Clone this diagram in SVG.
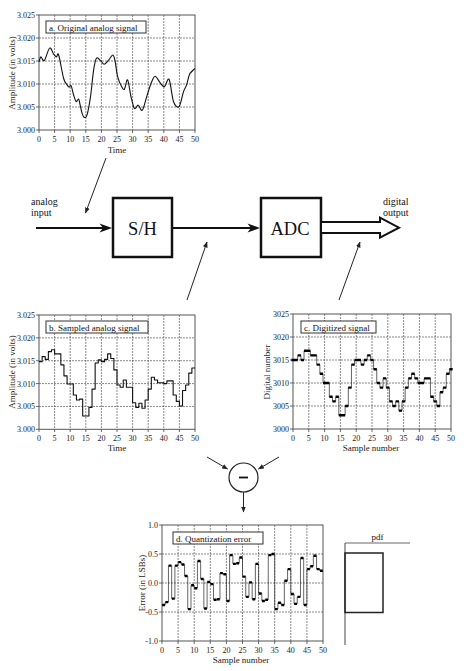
<svg xmlns="http://www.w3.org/2000/svg" width="474" height="671" viewBox="0 0 474 671">
<defs>
<style>
.grid{fill:none;stroke:#555;stroke-width:0.7;stroke-dasharray:2 1}
.frame{fill:none;stroke:#555;stroke-width:1}
.tk{fill:none;stroke:#444;stroke-width:0.8}
.num{font-family:"Liberation Serif",serif;font-size:8px;fill:#222}
.ax{font-family:"Liberation Serif",serif;font-size:9px;fill:#222}
.leg{fill:#fff;stroke:#333;stroke-width:1}
.legt{font-family:"Liberation Serif",serif;font-size:9px;fill:#111}
.sig{fill:none;stroke:#111;stroke-width:1.1;stroke-linejoin:round}
.stem{fill:none;stroke:#222;stroke-width:0.7}
.mk{fill:none;stroke:#000;stroke-width:2.4}
.lbl{font-family:"Liberation Serif",serif;font-size:10px;fill:#111}
.box{fill:#fff;stroke:#111;stroke-width:2.5}
.boxt{font-family:"Liberation Serif",serif;font-size:18.5px;fill:#111;text-anchor:middle}
.thin{fill:none;stroke:#222;stroke-width:1}
.main{fill:none;stroke:#111;stroke-width:2}
</style>
<marker id="ah" viewBox="0 0 10 10" refX="9" refY="5" markerWidth="6" markerHeight="6" markerUnits="userSpaceOnUse" orient="auto"><path d="M0,1 L10,5 L0,9 Z" fill="#222"/></marker>
</defs>
<rect width="474" height="671" fill="#fff"/>

<!-- Plot a -->
<g id="plot-a">
<path class="grid" d="M54.6,15V130M70.2,15V130M85.8,15V130M101.4,15V130M117,15V130M132.6,15V130M148.2,15V130M163.8,15V130M179.4,15V130M39,38H195M39,61H195M39,84H195M39,107H195"/>
<rect class="frame" x="39" y="15" width="156" height="115"/>
<path class="tk" d="M36,15H39M36,38H39M36,61H39M36,84H39M36,107H39M36,130H39M39,130V133M54.6,130V133M70.2,130V133M85.8,130V133M101.4,130V133M117,130V133M132.6,130V133M148.2,130V133M163.8,130V133M179.4,130V133M195,130V133"/>
<g class="num" text-anchor="end"><text x="35" y="18">3.025</text><text x="35" y="41">3.020</text><text x="35" y="64">3.015</text><text x="35" y="87">3.010</text><text x="35" y="110">3.005</text><text x="35" y="133">3.000</text></g>
<g class="num" text-anchor="middle"><text x="39" y="142">0</text><text x="54.6" y="142">5</text><text x="70.2" y="142">10</text><text x="85.8" y="142">15</text><text x="101.4" y="142">20</text><text x="117" y="142">25</text><text x="132.6" y="142">30</text><text x="148.2" y="142">35</text><text x="163.8" y="142">40</text><text x="179.4" y="142">45</text><text x="195" y="142">50</text></g>
<text class="ax" x="117" y="152.5" text-anchor="middle">Time</text>
<text class="ax" transform="translate(15,73) rotate(-90)" text-anchor="middle">Amplitude (in volts)</text>
<path class="sig" stroke-width="1.4" d="M39,61.92 C39.62,60.23 39.99,57.09 40.87,56.86 S42.84,62.00 44.30,60.54 S48.05,49.19 49.61,48.12 S52.52,52.64 53.66,54.10 S55.64,56.71 56.47,56.86 S57.46,51.42 58.66,55.02 S62.25,73.50 63.65,78.48 S66.15,83.46 67.08,84.92 S68.58,87.07 69.26,87.22 S70.41,84.54 71.14,85.84 S72.80,92.43 73.63,95.04 S75.30,100.79 76.13,101.48 S77.95,98.57 78.62,99.18 S79.61,102.78 80.18,105.16 S81.38,111.41 82.06,113.44 S83.41,117.12 84.24,117.35 S86.01,118.23 87.05,114.82 S89.39,104.32 90.48,96.88 S92.61,76.64 93.60,70.20 S95.27,59.85 96.41,58.24 S99.16,59.54 100.46,60.54 S102.86,64.30 104.21,64.22 S107.13,61.61 108.58,60.08 S111.85,54.79 112.94,55.02 S114.35,57.86 115.13,61.46 S116.53,72.42 117.62,76.64 S120.54,84.69 121.68,86.76 S123.50,90.21 124.49,89.06 S126.52,78.56 127.61,79.86 S129.90,92.13 131.04,96.88 S133.27,107.00 134.47,108.38 S136.92,104.85 138.22,105.16 S140.87,111.60 142.27,110.22 S145.18,101.33 146.64,96.88 S149.61,86.99 151.01,83.54 S153.55,76.33 155.06,76.18 S158.50,80.86 160.06,82.62 S162.91,87.30 164.42,86.76 S167.59,76.95 169.10,79.40 S171.81,96.96 173.47,101.48 S177.43,108.15 179.09,106.54 S182.21,95.42 183.46,91.82 S185.49,87.99 186.58,84.92 S188.61,75.34 190.01,73.42 S193.34,70.05 195,68.36"/>
<rect class="leg" x="46" y="21" width="100" height="12"/>
<text class="legt" x="49" y="30.5">a. Original analog signal</text>
</g>

<!-- Plot b -->
<g id="plot-b">
<path class="grid" d="M54.6,315V429.3M70.2,315V429.3M85.8,315V429.3M101.4,315V429.3M117,315V429.3M132.6,315V429.3M148.2,315V429.3M163.8,315V429.3M179.4,315V429.3M39,337.86H195M39,360.72H195M39,383.58H195M39,406.44H195"/>
<rect class="frame" x="39" y="315" width="156" height="114.3"/>
<path class="tk" d="M36,315H39M36,337.86H39M36,360.72H39M36,383.58H39M36,406.44H39M36,429.3H39M39,429.3V432M54.6,429.3V432M70.2,429.3V432M85.8,429.3V432M101.4,429.3V432M117,429.3V432M132.6,429.3V432M148.2,429.3V432M163.8,429.3V432M179.4,429.3V432M195,429.3V432"/>
<g class="num" text-anchor="end"><text x="35" y="318">3.025</text><text x="35" y="340.9">3.020</text><text x="35" y="363.7">3.015</text><text x="35" y="386.6">3.010</text><text x="35" y="409.4">3.005</text><text x="35" y="432.3">3.000</text></g>
<g class="num" text-anchor="middle"><text x="39" y="440.5">0</text><text x="54.6" y="440.5">5</text><text x="70.2" y="440.5">10</text><text x="85.8" y="440.5">15</text><text x="101.4" y="440.5">20</text><text x="117" y="440.5">25</text><text x="132.6" y="440.5">30</text><text x="148.2" y="440.5">35</text><text x="163.8" y="440.5">40</text><text x="179.4" y="440.5">45</text><text x="195" y="440.5">50</text></g>
<text class="ax" x="117" y="451" text-anchor="middle">Time</text>
<text class="ax" transform="translate(15,372) rotate(-90)" text-anchor="middle">Amplitude (in volts)</text>
<path class="sig" d="M39,361.66 H42.12 V356.64 H45.24 V359.38 H48.36 V351.61 H51.48 V349.78 H54.6 V353.90 H60.84 V364.86 H63.96 V375.83 H67.08 V384.06 H73.32 V395.03 H76.44 V400.05 H79.56 V399.14 H82.68 V416.05 H88.92 V407.36 H92.04 V389.08 H95.16 V363.03 H98.28 V359.84 H101.4 V361.66 H104.52 V359.38 H107.64 V353.90 H110.76 V358.47 H113.88 V369.89 H117 V384.97 H120.12 V387.26 H123.24 V379.94 H126.36 V387.26 H132.6 V402.79 H135.72 V407.36 H138.84 V403.25 H141.96 V408.28 H145.08 V400.05 H148.2 V389.08 H151.32 V377.20 H154.44 V379.94 H157.56 V382.69 H163.8 V383.60 H166.92 V380.86 H173.16 V395.03 H176.28 V401.42 H179.4 V405.99 H182.52 V390.46 H185.64 V384.97 H188.76 V373.09 H191.88 V368.06 H195"/>
<rect class="leg" x="46" y="321" width="102" height="12"/>
<text class="legt" x="49" y="330.5">b. Sampled analog signal</text>
</g>

<!-- Plot c -->
<g id="plot-c">
<path class="grid" d="M308.8,314V429M324.6,314V429M340.4,314V429M356.2,314V429M372,314V429M387.8,314V429M403.6,314V429M419.4,314V429M435.2,314V429M293,337H451M293,360H451M293,383H451M293,406H451"/>
<rect class="frame" x="293" y="314" width="158" height="115"/>
<path class="tk" d="M290,314H293M290,337H293M290,360H293M290,383H293M290,406H293M290,429H293M293,429V432M308.8,429V432M324.6,429V432M340.4,429V432M356.2,429V432M372,429V432M387.8,429V432M403.6,429V432M419.4,429V432M435.2,429V432M451,429V432"/>
<g class="num" text-anchor="end"><text x="289" y="317">3025</text><text x="289" y="340">3020</text><text x="289" y="363">3015</text><text x="289" y="386">3010</text><text x="289" y="409">3005</text><text x="289" y="432">3000</text></g>
<g class="num" text-anchor="middle"><text x="293" y="440.5">0</text><text x="308.8" y="440.5">5</text><text x="324.6" y="440.5">10</text><text x="340.4" y="440.5">15</text><text x="356.2" y="440.5">20</text><text x="372" y="440.5">25</text><text x="387.8" y="440.5">30</text><text x="403.6" y="440.5">35</text><text x="419.4" y="440.5">40</text><text x="435.2" y="440.5">45</text><text x="451" y="440.5">50</text></g>
<text class="ax" x="371" y="451" text-anchor="middle">Sample number</text>
<text class="ax" transform="translate(270,372) rotate(-90)" text-anchor="middle">Digital number</text>
<path class="stem" d="M291.4,360 H297.74 V355.4 H300.9 V360 H304.06 V350.8 H310.38 V355.4 H316.7 V364.6 H319.86 V373.8 H323.02 V383 H329.34 V396.8 H332.5 V401.4 H335.66 V396.8 H338.82 V415.2 H345.14 V406 H348.3 V387.6 H351.46 V364.6 H354.62 V360 H360.94 V364.6 H364.1 V360 H367.26 V355.4 H370.42 V360 H373.58 V369.2 H376.74 V383 H379.9 V387.6 H383.06 V378.4 H386.22 V387.6 H389.38 V401.4 H392.54 V406 H395.7 V401.4 H398.86 V410.6 H402.02 V401.4 H405.18 V387.6 H408.34 V378.4 H411.5 V373.8 H414.66 V378.4 H417.82 V383 H424.14 V378.4 H430.46 V396.8 H433.62 V401.4 H436.78 V406 H439.94 V392.2 H443.1 V387.6 H446.26 V373.8 H449.42 V369.2 H452.6"/>
<path class="mk" stroke-width="2.7" d="M291.4,360h3.2M294.56,360h3.2M297.72,355.4h3.2M300.88,360h3.2M304.04,350.8h3.2M307.2,350.8h3.2M310.36,355.4h3.2M313.52,355.4h3.2M316.68,364.6h3.2M319.84,373.8h3.2M323,383h3.2M326.16,383h3.2M329.32,396.8h3.2M332.48,401.4h3.2M335.64,396.8h3.2M338.8,415.2h3.2M341.96,415.2h3.2M345.12,406h3.2M348.28,387.6h3.2M351.44,364.6h3.2M354.6,360h3.2M357.76,360h3.2M360.92,364.6h3.2M364.08,360h3.2M367.24,355.4h3.2M370.4,360h3.2M373.56,369.2h3.2M376.72,383h3.2M379.88,387.6h3.2M383.04,378.4h3.2M386.2,387.6h3.2M389.36,401.4h3.2M392.52,406h3.2M395.68,401.4h3.2M398.84,410.6h3.2M402,401.4h3.2M405.16,387.6h3.2M408.32,378.4h3.2M411.48,373.8h3.2M414.64,378.4h3.2M417.8,383h3.2M420.96,383h3.2M424.12,378.4h3.2M427.28,378.4h3.2M430.44,396.8h3.2M433.6,401.4h3.2M436.76,406h3.2M439.92,392.2h3.2M443.08,387.6h3.2M446.24,373.8h3.2M449.4,369.2h3.2"/>
<rect class="leg" x="301" y="321" width="75" height="12"/>
<text class="legt" x="304" y="330.5">c. Digitized signal</text>
</g>

<!-- Subtraction node -->
<g id="node-subtract">
<circle cx="243.5" cy="477.5" r="14.5" fill="#fff" stroke="#222" stroke-width="1.2"/>
<line x1="239" y1="477.5" x2="248" y2="477.5" stroke="#111" stroke-width="1.8"/>
</g>

<!-- Plot d -->
<g id="plot-d">
<path class="grid" d="M178.1,525V641M194.2,525V641M210.3,525V641M226.4,525V641M242.5,525V641M258.6,525V641M274.7,525V641M290.8,525V641M306.9,525V641M162,554H323M162,583H323M162,612H323"/>
<rect class="frame" x="162" y="525" width="161" height="116"/>
<path class="tk" d="M159,525H162M159,554H162M159,583H162M159,612H162M159,641H162M162,641V644M178.1,641V644M194.2,641V644M210.3,641V644M226.4,641V644M242.5,641V644M258.6,641V644M274.7,641V644M290.8,641V644M306.9,641V644M323,641V644"/>
<g class="num" text-anchor="end"><text x="158" y="528">1.0</text><text x="158" y="557">0.5</text><text x="158" y="586">0.0</text><text x="158" y="615">-0.5</text><text x="158" y="644">-1.0</text></g>
<g class="num" text-anchor="middle"><text x="162" y="652.5">0</text><text x="178.1" y="652.5">5</text><text x="194.2" y="652.5">10</text><text x="210.3" y="652.5">15</text><text x="226.4" y="652.5">20</text><text x="242.5" y="652.5">25</text><text x="258.6" y="652.5">30</text><text x="274.7" y="652.5">35</text><text x="290.8" y="652.5">40</text><text x="306.9" y="652.5">45</text><text x="323" y="652.5">50</text></g>
<text class="ax" x="241" y="662.5" text-anchor="middle">Sample number</text>
<text class="ax" transform="translate(144.5,583) rotate(-90)" text-anchor="middle">Error (in LSBs)</text>
<path class="stem" d="M162,605.04 H165.22 V602.14 H168.44 V565.6 H171.66 V598.66 H174.88 V565.6 H178.1 V562.12 H181.32 V564.44 H184.54 V576.04 H187.76 V609.1 H190.98 V585.32 H194.2 V588.22 H197.42 V560.96 H200.64 V578.94 H203.86 V608.52 H207.08 V581.84 H210.3 V584.16 H213.52 V599.82 H216.74 V599.24 H219.96 V573.14 H223.18 V574.3 H226.4 V600.98 H229.62 V555.16 H232.84 V563.86 H236.06 V563.28 H239.28 V557.48 H242.5 V576.62 H245.72 V596.92 H248.94 V582.42 H252.16 V599.24 H255.38 V563.86 H258.6 V593.44 H261.82 V600.98 H265.04 V599.82 H268.26 V555.16 H271.48 V554 H274.7 V609.1 H277.92 V602.72 H281.14 V605.04 H284.36 V580.68 H287.58 V569.08 H290.8 V594.02 H294.02 V603.88 H297.24 V596.92 H300.46 V558.06 H303.68 V605.04 H306.9 V569.08 H310.12 V566.18 H313.34 V555.74 H316.56 V569.08 H319.78 V570.82 H323"/>
<path class="mk" d="M162.2,605.04h2.8M165.42,602.14h2.8M168.64,565.6h2.8M171.86,598.66h2.8M175.08,565.6h2.8M178.3,562.12h2.8M181.52,564.44h2.8M184.74,576.04h2.8M187.96,609.1h2.8M191.18,585.32h2.8M194.4,588.22h2.8M197.62,560.96h2.8M200.84,578.94h2.8M204.06,608.52h2.8M207.28,581.84h2.8M210.5,584.16h2.8M213.72,599.82h2.8M216.94,599.24h2.8M220.16,573.14h2.8M223.38,574.3h2.8M226.6,600.98h2.8M229.82,555.16h2.8M233.04,563.86h2.8M236.26,563.28h2.8M239.48,557.48h2.8M242.7,576.62h2.8M245.92,596.92h2.8M249.14,582.42h2.8M252.36,599.24h2.8M255.58,563.86h2.8M258.8,593.44h2.8M262.02,600.98h2.8M265.24,599.82h2.8M268.46,555.16h2.8M271.68,554h2.8M274.9,609.1h2.8M278.12,602.72h2.8M281.34,605.04h2.8M284.56,580.68h2.8M287.78,569.08h2.8M291,594.02h2.8M294.22,603.88h2.8M297.44,596.92h2.8M300.66,558.06h2.8M303.88,605.04h2.8M307.1,569.08h2.8M310.32,566.18h2.8M313.54,555.74h2.8M316.76,569.08h2.8M319.98,570.82h2.8"/>
<rect class="leg" x="173" y="532" width="90" height="12"/>
<text class="legt" x="176" y="541.5">d. Quantization error</text>
</g>

<!-- pdf -->
<g id="pdf">
<path d="M345,543V645M345,543H410" fill="none" stroke="#666" stroke-width="1.2"/>
<rect x="345" y="553" width="38" height="59.5" fill="none" stroke="#222" stroke-width="1.5"/>
<text class="legt" x="377.5" y="539.5" text-anchor="middle">pdf</text>
</g>

<!-- Block diagram nodes -->
<g id="label-analog-input">
<text class="lbl" x="31" y="204.5">analog</text>
<text class="lbl" x="31" y="215.8">input</text>
</g>
<g id="node-sh">
<rect class="box" x="113" y="198" width="59" height="59"/>
<text class="boxt" x="142.5" y="234.5">S/H</text>
</g>
<g id="node-adc">
<rect class="box" x="261" y="198" width="60" height="59"/>
<text class="boxt" x="290" y="234.5">ADC</text>
</g>
<g id="label-digital-output">
<text class="lbl" x="383" y="204.5">digital</text>
<text class="lbl" x="383" y="215.8">output</text>
</g>

<!-- Connectors -->
<g id="connectors">
<line class="main" x1="36" y1="228" x2="106" y2="228"/>
<path d="M112,228 L99.5,223.5 L103,228 L99.5,232.5 Z" fill="#111"/>
<line class="main" x1="173" y1="228" x2="254" y2="228"/>
<path d="M260,228 L247.5,223.5 L251,228 L247.5,232.5 Z" fill="#111"/>
<path d="M322,222 H380 V217.7 L399,227.7 L380,237.7 V233 H322" fill="#fff" stroke="#111" stroke-width="2" stroke-linejoin="miter"/>
<line class="thin" x1="106" y1="158" x2="85.5" y2="213" marker-end="url(#ah)"/>
<line class="thin" x1="187" y1="300" x2="207" y2="242" marker-end="url(#ah)"/>
<line class="thin" x1="339" y1="300" x2="360" y2="242" marker-end="url(#ah)"/>
<line class="thin" x1="207" y1="457" x2="227.5" y2="469" marker-end="url(#ah)"/>
<line class="thin" x1="279" y1="457" x2="258.5" y2="469" marker-end="url(#ah)"/>
<line class="thin" x1="243.5" y1="492" x2="243.5" y2="512" marker-end="url(#ah)"/>
</g>
</svg>
